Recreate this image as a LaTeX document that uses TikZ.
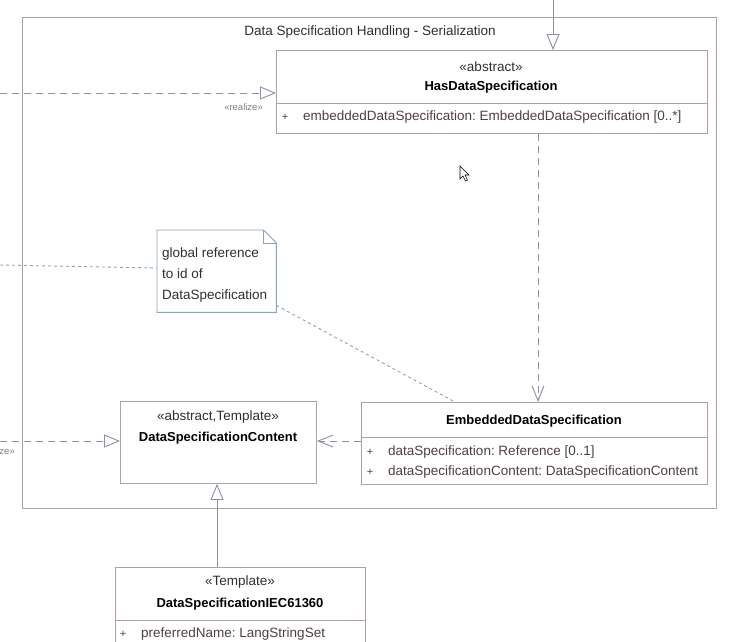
\documentclass[tikz,border=0pt]{standalone}
\usepackage{fontspec}
\setmainfont{Liberation Sans}
\usetikzlibrary{arrows.meta}
\frenchspacing
\definecolor{boxc}{HTML}{B0A0A0}
\definecolor{linec}{HTML}{8A8EA6}
\definecolor{notec}{HTML}{8AA4B4}
\definecolor{txtc}{HTML}{4F4040}
\definecolor{titc}{HTML}{303030}
\tikzset{
  umlbox/.style={draw=boxc, line width=0.9pt, anchor=north west, inner sep=0pt, fill=white},
  sepline/.style={draw=boxc, line width=0.9pt},
  stereo/.style={text=titc, font=\fontsize{13.5}{15}\selectfont, inner sep=0pt},
  cname/.style={text=black, font=\fontsize{13}{15}\selectfont\bfseries, inner sep=0pt},
  attr/.style={text=txtc, font=\fontsize{13.5}{15}\selectfont, anchor=west, inner sep=0pt},
  plus/.style={text=txtc, font=\fontsize{11}{13}\selectfont, inner sep=0pt},
  gen/.style={draw=linec, line width=0.9pt, -{Triangle[open,length=16pt,width=13pt,line width=0.9pt]}},
  real/.style={draw=linec, line width=0.9pt, dash pattern=on 7pt off 5pt, -{Triangle[open,length=16pt,width=13pt,line width=0.9pt]}},
  dep/.style={draw=linec, line width=0.9pt, dash pattern=on 7pt off 5pt, -{Straight Barb[length=15pt,width=12pt,line width=0.9pt]}},
  notel/.style={draw=notec, line width=0.9pt, dash pattern=on 3pt off 3pt},
  small/.style={text=gray, font=\fontsize{9.5}{11}\selectfont, inner sep=0pt},
}
\begin{document}
\begin{tikzpicture}[x=1pt,y=-1pt]
\useasboundingbox (0,0) rectangle (750,641);
\clip (0,0) rectangle (750,641);
\fill[white] (0,0) rectangle (750,641);
% frame
\node[umlbox, minimum width=694pt, minimum height=491pt, fill=none] (frame) at (22,17) {};
\node[stereo] (title) at (370,32) {Data Specification Handling - Serialization};
% HasDataSpecification
\node[umlbox, minimum width=431pt, minimum height=83pt] (has) at (276,50) {};
\draw[sepline] (276,103) -- (707,103);
\node[stereo] (hasst) at (491,67) {«abstract»};
\node[cname] (hasnm) at (491,87) {HasDataSpecification};
\node[plus] (hasp) at (285,117) {+};
\node[attr] (hasa) at (303,117) {embeddedDataSpecification: EmbeddedDataSpecification [0..*]};
% note
\node[anchor=north west, minimum width=119pt, minimum height=82pt, inner sep=0pt] (note) at (157,230) {};
\draw[draw=notec, line width=0.9pt, fill=white] (note.north west) -- ([xshift=-13pt]note.north east) -- ([yshift=-13pt]note.north east) -- (note.south east) -- (note.south west) -- cycle;
\draw[draw=notec, line width=0.9pt] ([xshift=-13pt]note.north east) -- ([xshift=-13pt,yshift=-13pt]note.north east) -- ([yshift=-13pt]note.north east);
\node[attr, text=titc] (n1) at (162,254) {global reference};
\node[attr, text=titc] (n2) at (162,274) {to id of};
\node[attr, text=titc] (n3) at (162,296) {DataSpecification};
% DataSpecificationContent
\node[umlbox, minimum width=196pt, minimum height=82pt] (dsc) at (120,401) {};
\node[stereo] (dscst) at (218,417) {«abstract,Template»};
\node[cname] (dscnm) at (218,438) {DataSpecificationContent};
% EmbeddedDataSpecification
\node[umlbox, minimum width=346pt, minimum height=82pt] (eds) at (361,402) {};
\draw[sepline] (361,437) -- (707,437);
\node[cname] (edsnm) at (534,421) {EmbeddedDataSpecification};
\node[plus] (edsp1) at (370,452) {+};
\node[attr] (edsa1) at (388,452) {dataSpecification: Reference [0..1]};
\node[plus] (edsp2) at (370,472) {+};
\node[attr] (edsa2) at (388,472) {dataSpecificationContent: DataSpecificationContent};
% DataSpecificationIEC61360
\node[umlbox, minimum width=250pt, minimum height=93pt] (iec) at (115,567) {};
\draw[sepline] (115,620) -- (365,620);
\node[stereo] (iecst) at (240,582) {«Template»};
\node[cname] (iecnm) at (240,604) {DataSpecificationIEC61360};
\node[plus] (iecp) at (123,634) {+};
\node[attr] (ieca) at (141,634) {preferredName: LangStringSet};
% connectors
\coordinate (topin) at (553,0);
\draw[gen] (topin) -- (topin |- has.north);
\coordinate (r1) at (0,93);
\draw[real] (r1) -- (r1 -| has.west);
\node[small, anchor=east] (r1l) at (263,107) {«realize»};
\coordinate (d1) at (538,0);
\draw[dep] (d1 |- has.south) -- (d1 |- eds.north);
\coordinate (h2) at (0,441);
\draw[dep] (h2 -| eds.west) -- (h2 -| dsc.east);
\draw[real] (h2) -- (h2 -| dsc.west);
\node[small, anchor=east] (r2l) at (15,451) {«realize»};
\coordinate (g) at (217,0);
\draw[gen] (g |- iec.north) -- (g |- dsc.south);
\coordinate (nl) at (0,265);
\draw[notel] (nl) -- ([yshift=-38pt]note.north west);
\draw[notel] ([yshift=7pt]note.south east) -- ([xshift=94pt]eds.north west);
% cursor
\draw[fill=white, line width=0.6pt] (460,166) -- (460,179) -- (463,176) -- (465.5,181) -- (467.5,180) -- (465,175) -- (469,175) -- cycle;
\end{tikzpicture}
\end{document}
